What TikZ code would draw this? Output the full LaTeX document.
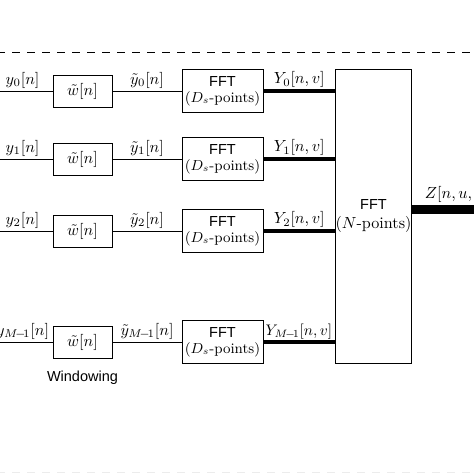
\documentclass[tikz,border=0pt]{standalone}
\usepackage{fontspec}
\setsansfont{Liberation Sans}
\begin{document}
\begin{tikzpicture}[x=0.62pt,y=-0.62pt,
  wbox/.style={draw,line width=0.6pt,minimum width=59*0.62pt,minimum height=32*0.62pt,inner sep=0pt},
  fbox/.style={draw,line width=0.6pt,minimum width=81*0.62pt,minimum height=43*0.62pt,inner sep=0pt,align=center,font=\fontsize{9}{10}\sffamily},
  thin/.style={line width=0.6pt},
  thickY/.style={line width=1.9pt},
  lab/.style={above,inner sep=1.5pt}
]
\useasboundingbox (0,0) rectangle (474,474);
\draw[dash pattern=on 4.8pt off 4.5pt,line width=0.6pt] (-3,52) -- (474,52);
\draw[dash pattern=on 4.8pt off 4.5pt,line width=0.6pt,gray!15] (-3,472) -- (474,472);
% big FFT
\node[draw,line width=0.6pt,minimum width=75*0.62pt,minimum height=294*0.62pt,inner sep=0pt,align=center] (big) at (373.5,216) {{\fontsize{9}{10}\sffamily FFT}\\($N$-points)};
\foreach \i/\y/\s/\p/\a/\sc in {0/91/0/0.5/south/1,1/159/1/0.5/south/1,2/231/2/0.5/south/1,3/342/{M\!-\!1}/1/south east/0.95}{
  \coordinate (in\i) at (0,\y);
  \node[wbox] (w\i) at (82.5,\y) {$\tilde w[n]$};
  \node[fbox] (f\i) at (222.5,\y) {FFT\\{\rmfamily($D_s$-points)}};
  \coordinate (j\i) at (big.west |- f\i.east);
  \draw[thin] (in\i) -- node[lab,pos=0.43] (yl\i) {$y_{\s}[n]$} (w\i.west);
  \draw[thin] (w\i.east) -- node[lab] (ytl\i) {$\tilde y_{\s}[n]$} (f\i.west);
  \draw[thickY] (f\i.east) -- node[pos=\p,anchor=\a,inner sep=1pt,scale=\sc] (Yl\i) {$Y_{\s}[n,v]$} (j\i);
}
\node[below=4pt,font=\fontsize{9}{10}\sffamily] (win) at (w3.south) {Windowing};
\coordinate (out) at (480,209.5);
\draw[line width=5.6pt] (big.east |- out) -- (out);
\node[anchor=south west,inner sep=1pt] (zl) at (423,204) {$Z[n,u,v]$};
\end{tikzpicture}
\end{document}
